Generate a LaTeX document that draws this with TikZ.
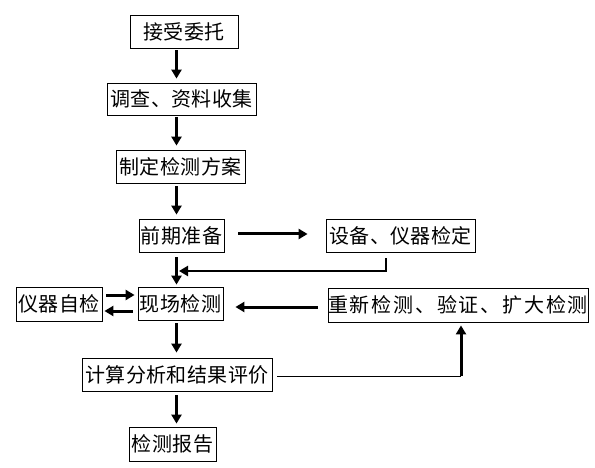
\documentclass[tikz,border=0pt]{standalone}
\usepackage{fontspec}
\setmainfont{Noto Sans CJK SC}[LetterSpace=2]
\newfontfamily\widecjk{Noto Sans CJK SC}[LetterSpace=9]
\usetikzlibrary{arrows.meta}
\begin{document}
\begin{tikzpicture}[x=1pt,y=-1pt,
  box/.style={draw, line width=0.8pt, inner sep=0pt, minimum width=#1, font=\fontsize{20}{20}\selectfont},
  thickarrow/.style={line width=3pt, -{Triangle[length=9pt,width=10pt]}},
  thinline/.style={line width=0.8pt}]
\useasboundingbox (0,0) rectangle (595,468);
\node[box=108pt, minimum height=33pt] (b1) at (184,31.5) {接受委托};
\node[box=149pt, minimum height=32pt] (b2) at (181.5,99) {调查、资料收集};
\node[box=129pt, minimum height=33pt] (b3) at (180.5,166.5) {制定检测方案};
\node[box=85pt, minimum height=33pt] (qq) at (181.5,235.5) {前期准备};
\node[box=149pt, minimum height=33pt] (sb) at (400.5,235.5) {设备、仪器检定};
\node[box=86pt, minimum height=34pt] (yq) at (59,304) {仪器自检};
\node[box=85pt, minimum height=33pt] (xc) at (180.5,303.5) {现场检测};
\node[box=254pt, minimum height=34pt, font=\fontsize{20}{20}\widecjk] (cx) at (458,305) {重新检测、验证、扩大检测};
\node[box=190pt, minimum height=33pt] (js) at (177,374.5) {计算分析和结果评价};
\node[box=87pt, minimum height=34pt] (bg) at (172.5,444) {检测报告};
\coordinate (m) at (176.5,0);
\coordinate (r) at (386,0);
\coordinate (rc) at (386,271);
\coordinate (j) at (179,271);
\coordinate (k) at (461,376);
% main vertical arrows
\draw[thickarrow, shorten <=2pt, shorten >=4pt] (b1.south -| m) -- (b2.north -| m);
\draw[thickarrow, shorten <=2pt, shorten >=4pt] (b2.south -| m) -- (b3.north -| m);
\draw[thickarrow, shorten <=3pt, shorten >=4pt] (b3.south -| m) -- (qq.north -| m);
\draw[thickarrow, shorten <=5pt, shorten >=2pt] (qq.south -| m) -- (xc.north -| m);
\draw[thickarrow, shorten <=3pt, shorten >=5pt] (xc.south -| m) -- (js.north -| m);
\draw[thickarrow, shorten <=4pt, shorten >=3pt] (js.south -| m) -- (bg.north -| m);
% side arrows
\draw[thickarrow, shorten <=14pt, shorten >=18pt] ([yshift=1.5pt]qq.east) -- ([yshift=1.5pt]sb.west);
\draw[line width=2.5pt, -{Triangle[length=9pt,width=10pt]}, shorten <=6pt] (sb.south -| r) -- (rc) -- (j);
\draw[thickarrow, shorten <=10pt, shorten >=12pt] ([yshift=-2pt]cx.west) -- ([yshift=-3.5pt]xc.east);
\draw[thickarrow, shorten <=4pt, shorten >=3pt] ([yshift=9pt]yq.east) -- ([yshift=8.5pt]xc.west);
\draw[thickarrow, shorten <=5pt, shorten >=2pt] ([yshift=-7.5pt]xc.west) -- ([yshift=-7pt]yq.east);
\draw[thinline, shorten <=5pt] ([yshift=-1.5pt]js.east) -- (k);
\draw[thickarrow, shorten >=3pt] (k) -- (cx.south -| k);
\end{tikzpicture}
\end{document}
